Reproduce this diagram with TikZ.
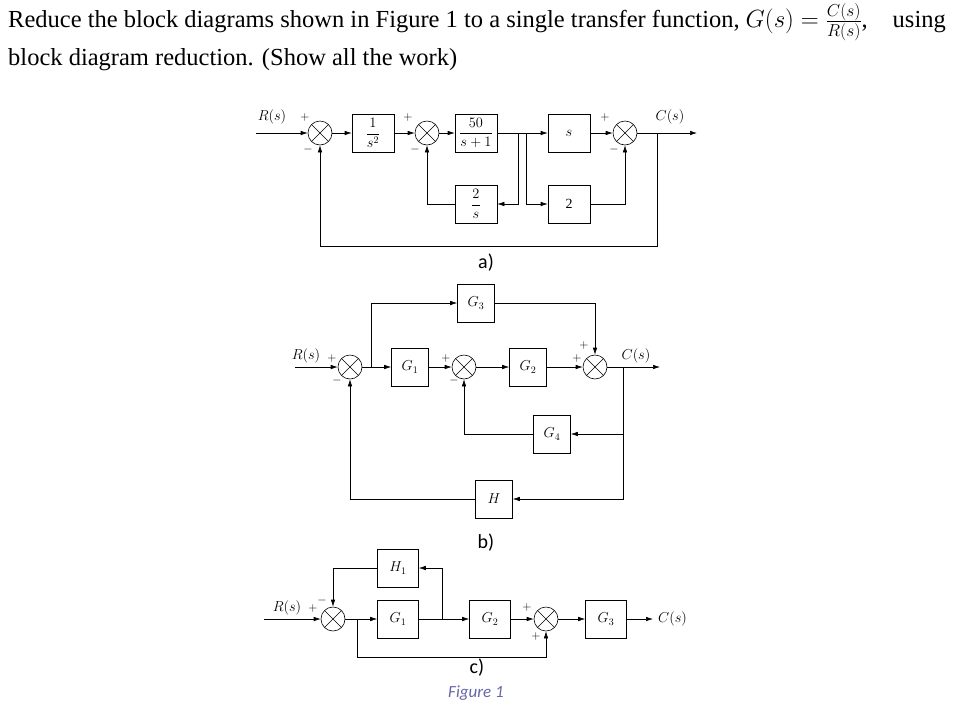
\documentclass[tikz,border=0pt]{standalone}
\usepackage{fontspec}
\setmainfont{Liberation Serif}
\newfontfamily\sansf{Carlito}
\usetikzlibrary{arrows.meta}
\begin{document}
\begin{tikzpicture}[x=1pt,y=-1pt,
  blk/.style={draw,line width=0.6pt,minimum width=#1,minimum height=38pt,inner sep=0pt,font=\fontsize{14}{15}\selectfont},
  blk/.default=42pt,
  sum/.style={draw,circle,line width=0.6pt,minimum size=24pt,inner sep=0pt,
    path picture={\draw[line width=0.6pt] (path picture bounding box.north west)--(path picture bounding box.south east)
      (path picture bounding box.north east)--(path picture bounding box.south west);}},
  ln/.style={line width=0.6pt},
  ar/.style={ln,-{Latex[length=7pt,width=4.5pt]}},
  sg/.style={font=\fontsize{13}{13}\selectfont,inner sep=0pt},
  lb/.style={font=\fontsize{14}{15}\selectfont,inner sep=0pt},
  capt/.style={font=\sansf\fontsize{20}{22}\selectfont,inner sep=0pt}]
\useasboundingbox (0,0) rectangle (961,721);
% title
\node[anchor=west,inner sep=0pt,font=\fontsize{24.5}{26}\selectfont] (t1) at (8,22) {Reduce the block diagrams shown in Figure 1 to a single transfer function, $G(s)=\frac{C(s)}{R(s)}$,};
\node[anchor=east,inner sep=0pt,font=\fontsize{24.5}{26}\selectfont] (t2) at (946,22) {using};
\node[anchor=west,inner sep=0pt,font=\fontsize{24.5}{26}\selectfont] (t3) at (8,60) {block diagram reduction. (Show all the work)};
% ---------- a)
\coordinate (ain) at (256,133);
\node[lb] (aR) at (272,117) {$R(s)$};
\node[sum] (as1) at (320,133) {};
\node[blk] (ag1) at (373,133) {$\displaystyle\frac{1}{s^2}$};
\node[sum] (as2) at (427,133) {};
\node[blk] (ag2) at (476,133) {$\displaystyle\frac{50}{s+1}$};
\node[blk] (ags) at (569,133) {$s$};
\node[sum] (as3) at (625,133) {};
\coordinate (aout) at (697,133);
\node[lb] (aC) at (670,117) {$C(s)$};
\node[blk] (ah) at (476,204) {$\displaystyle\frac{2}{s}$};
\node[blk] (a2) at (569,204) {2};
\draw[ar] (ain) -- (as1);
\draw[ar] (as1) -- (ag1);
\draw[ar] (ag1) -- (as2);
\draw[ar] (as2) -- (ag2);
\draw[ar] (ag2) -- (ags);
\draw[ar] (ags) -- (as3);
\draw[ar] (as3) -- (aout);
\draw[ar] (518,133) |- (ah.east);
\draw[ar] (526,133) |- (a2.west);
\draw[ar] (ah.west) -| (as2.south);
\draw[ar] (a2.east) -| (as3.south);
\draw[ar] (657,133) |- (320,246) -- (as1.south);
\node[sg] at (305,117) {$+$}; \node[sg] at (308,149) {$-$};
\node[sg] at (408,117) {$+$}; \node[sg] at (415,149) {$-$};
\node[sg] at (605,117) {$+$}; \node[sg] at (614,149) {$-$};
\node[capt] (capa) at (486,263) {a)};
% ---------- b)
\coordinate (bin) at (295,367);
\node[lb] (bR) at (306,356) {$R(s)$};
\node[sum] (bs1) at (350,367) {};
\node[blk=37pt] (bg3) at (476,303) {$G_3$};
\node[blk=37pt] (bg1) at (410,367) {$G_1$};
\node[sum] (bs2) at (464,367) {};
\node[blk=37pt] (bg2) at (528,367) {$G_2$};
\node[sum] (bs3) at (595,367) {};
\coordinate (bout) at (660,367);
\node[lb] (bC) at (636,356) {$C(s)$};
\node[blk=37pt] (bg4) at (552,434) {$G_4$};
\node[blk=37pt] (bh) at (494,499) {$H$};
\draw[ar] (bin) -- (bs1);
\draw[ar] (bs1) -- (bg1);
\draw[ar] (371,367) |- (bg3.west);
\draw[ar] (bg3.east) -| (bs3.north);
\draw[ar] (bg1) -- (bs2);
\draw[ar] (bs2) -- (bg2);
\draw[ar] (bg2) -- (bs3);
\draw[ar] (bs3) -- (bout);
\draw[ar] (623,367) |- (bg4.east);
\draw[ar] (623,434) |- (bh.east);
\draw[ar] (bg4.west) -| (bs2.south);
\draw[ar] (bh.west) -| (bs1.south);
\node[sg] at (332,358) {$+$}; \node[sg] at (337,380) {$-$};
\node[sg] at (446,358) {$+$}; \node[sg] at (454,380) {$-$};
\node[sg] at (577,358) {$+$}; \node[sg] at (584,345) {$+$};
\node[capt] (capb) at (486,543) {b)};
% ---------- c)
\coordinate (cin) at (264,619);
\node[lb] (cR) at (287,608) {$R(s)$};
\node[sum] (cs1) at (333,619) {};
\node[blk=41pt] (ch1) at (398,568) {$H_1$};
\node[blk=41pt] (cg1) at (398,619) {$G_1$};
\node[blk=41pt] (cg2) at (490,619) {$G_2$};
\node[sum] (cs2) at (546,619) {};
\node[blk=41pt] (cg3) at (606,619) {$G_3$};
\coordinate (cout) at (653,619);
\node[lb,anchor=west] (cC) at (658,619) {$C(s)$};
\draw[ar] (cin) -- (cs1);
\draw[ar] (cs1) -- (cg1);
\draw[ar] (cg1) -- (cg2);
\draw[ar] (442,619) |- (ch1.east);
\draw[ar] (ch1.west) -| (cs1.north);
\draw[ar] (cg2) -- (cs2);
\draw[ar] (357,619) |- (546,657) -- (cs2.south);
\draw[ar] (cs2) -- (cg3);
\draw[ar] (cg3) -- (cout);
\node[sg] at (313,608) {$+$}; \node[sg] at (322,600) {$-$};
\node[sg] at (527,607) {$+$}; \node[sg] at (536,636) {$+$};
\node[capt] (capc) at (477,668) {c)};
\node[font=\sansf\itshape\fontsize{17}{19}\selectfont,text=black!55!blue!60,inner sep=0pt] (fig) at (476,693) {Figure 1};
\end{tikzpicture}
\end{document}
